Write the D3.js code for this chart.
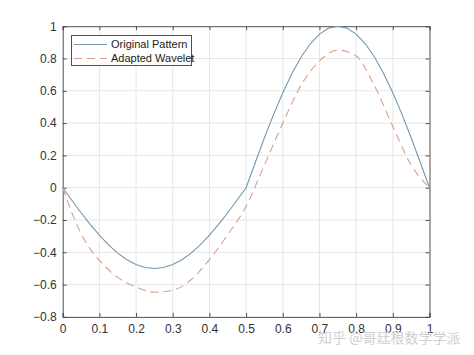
<!DOCTYPE html>
<html><head><meta charset="utf-8">
<script src="https://cdn.jsdelivr.net/npm/d3@7"></script>
<style>
html,body{margin:0;padding:0;background:#fff;}
svg{display:block;}
</style></head>
<body>
<script>
const xs = [0,0.025,0.05,0.075,0.1,0.125,0.15,0.175,0.2,0.225,0.25,0.275,0.3,0.325,0.35,0.375,0.4,0.425,0.45,0.475,0.5,
            0.525,0.55,0.575,0.6,0.625,0.65,0.675,0.7,0.725,0.75,0.775,0.8,0.825,0.85,0.875,0.9,0.925,0.95,0.975,1];
const original = [0,-0.078,-0.155,-0.227,-0.294,-0.354,-0.405,-0.446,-0.476,-0.494,-0.5,-0.494,-0.476,-0.446,-0.405,-0.354,-0.294,-0.227,-0.155,-0.078,0,
                  0.156,0.309,0.454,0.588,0.707,0.809,0.891,0.951,0.988,1,0.988,0.951,0.891,0.809,0.707,0.588,0.454,0.309,0.156,0];
const adaptedX = [0,0.025,0.05,0.075,0.1,0.15,0.2,0.25,0.3,0.35,0.4,0.45,0.5,0.55,0.6,0.65,0.7,0.75,0.8,0.85,0.9,0.95,1];
const adapted  = [0,-0.155,-0.285,-0.38,-0.45,-0.555,-0.615,-0.647,-0.635,-0.57,-0.445,-0.29,-0.115,0.14,0.40,0.635,0.785,0.852,0.815,0.63,0.38,0.14,0];
const xTicks = [0,0.1,0.2,0.3,0.4,0.5,0.6,0.7,0.8,0.9,1];
const yTicks = [-0.8,-0.6,-0.4,-0.2,0,0.2,0.4,0.6,0.8,1];
const seriesNames = ["Original Pattern","Adapted Wavelet"];
const watermark = "知乎 @哥廷根数学学派";

const W=474,H=355;
const L=62.7,R=429.5,T=26.2,B=316.9;
const svg=d3.select("body").append("svg").attr("width",W).attr("height",H);
const x=d3.scaleLinear().domain([0,1]).range([L,R]);
const y=d3.scaleLinear().domain([-0.8,1]).range([B,T]);
const axisCol="#505050", textCol="#333", gridCol="#e6e6e6";
const blue="#7397ae", orange="#d8a08a";

// grid
svg.append("g").selectAll("line").data(xTicks.slice(1,-1)).join("line")
  .attr("x1",d=>x(d)).attr("x2",d=>x(d)).attr("y1",T).attr("y2",B)
  .attr("stroke",gridCol).attr("stroke-width",1);
svg.append("g").selectAll("line").data(yTicks.slice(1,-1)).join("line")
  .attr("y1",d=>y(d)).attr("y2",d=>y(d)).attr("x1",L).attr("x2",R)
  .attr("stroke",gridCol).attr("stroke-width",1);

// axes
const fmt=d=>d===0?"0":(Math.abs(d-1)<1e-9?"1":d3.format(".1f")(d));
const ax=svg.append("g").attr("transform",`translate(0,${B})`)
  .call(d3.axisBottom(x).tickValues(xTicks).tickSize(-4).tickPadding(8).tickFormat(fmt));
const ay=svg.append("g").attr("transform",`translate(${L},0)`)
  .call(d3.axisLeft(y).tickValues(yTicks).tickSize(-4).tickPadding(6).tickFormat(fmt));
const axt=svg.append("g").attr("transform",`translate(0,${T})`)
  .call(d3.axisTop(x).tickValues(xTicks).tickSize(-4).tickFormat(""));
const ayr=svg.append("g").attr("transform",`translate(${R},0)`)
  .call(d3.axisRight(y).tickValues(yTicks).tickSize(-4).tickFormat(""));
[ax,ay,axt,ayr].forEach(g=>{
  g.selectAll("path").attr("stroke",axisCol);
  g.selectAll("line").attr("stroke",axisCol);
  g.selectAll("text").attr("fill",textCol).style("font-family","'Liberation Sans',Arial,sans-serif").style("font-size","12px");
});

// lines
svg.append("path").datum(xs.map((v,i)=>[v,original[i]]))
  .attr("d",d3.line().x(d=>x(d[0])).y(d=>y(d[1])).curve(d3.curveLinear))
  .attr("fill","none").attr("stroke",blue).attr("stroke-width",1.1);
svg.append("path").datum(adaptedX.map((v,i)=>[v,adapted[i]]))
  .attr("d",d3.line().x(d=>x(d[0])).y(d=>y(d[1])).curve(d3.curveMonotoneX)).attr("fill","none")
  .attr("stroke",orange).attr("stroke-width",1.1).attr("stroke-dasharray","8,5");

// legend
const lg=svg.append("g");
lg.append("rect").attr("x",71.5).attr("y",35.5).attr("width",120).attr("height",30)
  .attr("fill","#fff").attr("stroke",axisCol).attr("stroke-width",1);
const legY=[44.5,58.5];
const cols=[blue,orange], dashes=[null,"8,5"];
seriesNames.forEach((n,i)=>{
  lg.append("line").attr("x1",74).attr("x2",107).attr("y1",legY[i]).attr("y2",legY[i])
    .attr("stroke",cols[i]).attr("stroke-width",1.1).attr("stroke-dasharray",dashes[i]);
  lg.append("text").attr("x",111).attr("y",legY[i]).attr("dy","0.35em").text(n)
    .attr("fill","#222").style("font-family","'Liberation Sans',Arial,sans-serif").style("font-size","11px");
});

// watermark
svg.append("text").attr("x",318).attr("y",338).attr("dy","0.35em").text(watermark)
  .attr("fill","#cfcfcf").style("font-family","'Noto Sans CJK SC',sans-serif").style("font-size","14px");
</script>
</body></html>
